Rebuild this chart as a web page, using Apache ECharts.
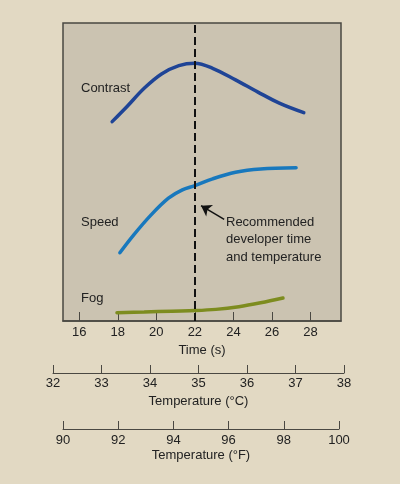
<!DOCTYPE html>
<html>
<head>
<meta charset="utf-8">
<script src="https://cdn.jsdelivr.net/npm/echarts@6/dist/echarts.min.js"></script>
<style>
html,body{margin:0;padding:0;background:#e2d9c3;}
#c{width:400px;height:484px;}
</style>
</head>
<body>
<div id="c"></div>
<script>
// Time (s) values and relative response levels (0-100 scale)
const contrastTime = [17.71, 18.47, 19.37, 20.27, 21.17, 22.0, 22.92, 24.11, 25.25, 26.38, 27.65];
const contrastVal  = [66.9, 71.9, 78.1, 82.9, 85.7, 86.5, 84.8, 80.9, 76.9, 73.1, 69.9];
const speedTime = [18.11, 18.83, 19.73, 20.63, 21.35, 22.0, 22.92, 24.11, 25.41, 27.25];
const speedVal  = [22.9, 28.9, 35.6, 41.2, 44.0, 45.4, 47.7, 49.9, 51.0, 51.4];
const fogTime = [17.96, 19.37, 20.81, 22.0, 23.09, 24.28, 25.41, 26.57];
const fogVal  = [2.8, 3.0, 3.3, 3.5, 3.9, 4.8, 6.1, 7.7];
const recommendedTime = 22;
const arrowFrom = [23.52, 34.1];
const arrowTo = [22.32, 38.7];
const timeTicks = [16, 18, 20, 22, 24, 26, 28];
const celsiusRange = [32, 38];
const fahrenheitRange = [90, 100];

const FONT = 'Liberation Sans, Arial, Helvetica, sans-serif';
const TXT = '#222';
const AX = '#4a4842';

const zip = (a, b) => a.map((v, i) => [v, b[i]]);

const chart = echarts.init(document.getElementById('c'), null, {renderer: 'canvas'});
chart.setOption({
  backgroundColor: '#e2d9c3',
  animation: false,
  textStyle: {fontFamily: FONT},
  grid: [
    {left: 63, top: 23, width: 278, height: 298, show: true, backgroundColor: '#cbc3b1', borderColor: AX, borderWidth: 1.5},
    {left: 53, top: 360, width: 291, height: 13},
    {left: 63, top: 416, width: 276, height: 13}
  ],
  xAxis: [
    {
      gridIndex: 0, type: 'value', min: 15.16, max: 29.58,
      name: 'Time (s)', nameLocation: 'middle', nameGap: 20,
      nameTextStyle: {color: TXT, fontSize: 13, fontFamily: FONT},
      axisLine: {show: true, lineStyle: {color: AX, width: 1.5}},
      axisTick: {show: true, inside: true, length: 9, customValues: timeTicks, lineStyle: {color: AX, width: 1}},
      axisLabel: {show: true, margin: 5, customValues: timeTicks, color: TXT, fontSize: 13, fontFamily: FONT},
      splitLine: {show: false}
    },
    {
      gridIndex: 1, type: 'value', min: celsiusRange[0], max: celsiusRange[1], interval: 1,
      name: 'Temperature (°C)', nameLocation: 'middle', nameGap: 22,
      nameTextStyle: {color: TXT, fontSize: 13, fontFamily: FONT},
      axisLine: {show: true, lineStyle: {color: AX, width: 1}},
      axisTick: {show: true, inside: true, length: 8, lineStyle: {color: AX, width: 1}},
      axisLabel: {margin: 4, color: TXT, fontSize: 13, fontFamily: FONT},
      splitLine: {show: false}
    },
    {
      gridIndex: 2, type: 'value', min: fahrenheitRange[0], max: fahrenheitRange[1], interval: 2,
      name: 'Temperature (°F)', nameLocation: 'middle', nameGap: 20,
      nameTextStyle: {color: TXT, fontSize: 13, fontFamily: FONT},
      axisLine: {show: true, lineStyle: {color: AX, width: 1}},
      axisTick: {show: true, inside: true, length: 8, lineStyle: {color: AX, width: 1}},
      axisLabel: {margin: 5, color: TXT, fontSize: 13, fontFamily: FONT},
      splitLine: {show: false}
    }
  ],
  yAxis: [
    {gridIndex: 0, type: 'value', min: 0, max: 100, show: false},
    {gridIndex: 1, type: 'value', min: 0, max: 1, show: false},
    {gridIndex: 2, type: 'value', min: 0, max: 1, show: false}
  ],
  series: [
    {
      name: 'Contrast', type: 'line', xAxisIndex: 0, yAxisIndex: 0,
      data: zip(contrastTime, contrastVal), smooth: 0.35, showSymbol: false,
      lineStyle: {color: '#1f4496', width: 3.5, cap: 'round'},
      markLine: {
        silent: true, symbol: 'none', label: {show: false},
        lineStyle: {color: '#111', width: 2, type: [8, 4]},
        data: [{xAxis: recommendedTime}]
      },
      z: 3
    },
    {
      name: 'Speed', type: 'line', xAxisIndex: 0, yAxisIndex: 0,
      data: zip(speedTime, speedVal), smooth: 0.35, showSymbol: false,
      lineStyle: {color: '#1878bd', width: 3.5, cap: 'round'},
      markLine: {
        silent: true, label: {show: false}, symbolSize: 10,
        lineStyle: {color: '#111', width: 1.5, type: 'solid'},
        data: [[{coord: arrowFrom, symbol: 'none'}, {coord: arrowTo, symbol: 'arrow'}]]
      },
      z: 3
    },
    {
      name: 'Fog', type: 'line', xAxisIndex: 0, yAxisIndex: 0,
      data: zip(fogTime, fogVal), smooth: 0.35, showSymbol: false,
      lineStyle: {color: '#7d8c1f', width: 3.5, cap: 'round'},
      z: 3
    }
  ],
  graphic: [
    {type: 'text', z: 10, style: {x: 81, y: 88.5, text: 'Contrast', verticalAlign: 'middle', fill: TXT, font: '13px ' + FONT}},
    {type: 'text', z: 10, style: {x: 81, y: 222.5, text: 'Speed', verticalAlign: 'middle', fill: TXT, font: '13px ' + FONT}},
    {type: 'text', z: 10, style: {x: 81, y: 298.5, text: 'Fog', verticalAlign: 'middle', fill: TXT, font: '13px ' + FONT}},
    {type: 'text', z: 10, style: {x: 226, y: 213.5, text: 'Recommended\ndeveloper time\nand temperature', lineHeight: 17.5, verticalAlign: 'top', fill: TXT, font: '13px ' + FONT}}
  ]
});
</script>
</body>
</html>
